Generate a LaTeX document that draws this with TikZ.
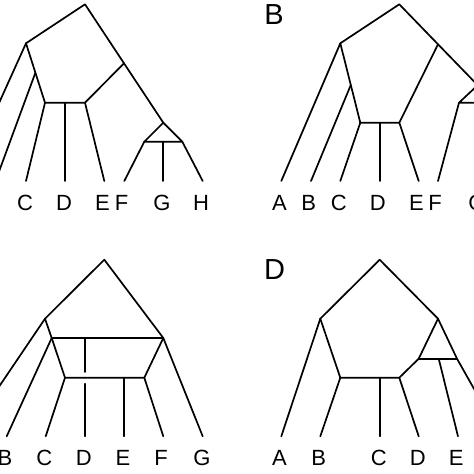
\documentclass[tikz,border=0pt]{standalone}
\usepackage{fontspec}
\setmainfont{Liberation Sans}
\usepackage{tikz}

\begin{document}
\begin{tikzpicture}[
    x=1pt, y=-1pt,
    branch/.style={line width=1.7pt, line cap=round, line join=round},
    leaf/.style={inner sep=0pt, font=\fontsize{22}{22}\selectfont},
    panel/.style={inner sep=0pt, font=\fontsize{29}{29}\selectfont}
]
\useasboundingbox (0,0) rectangle (474,474);
\clip (0,0) rectangle (474,474);

% Panel A
\coordinate (aroot) at (85,4.3);
\coordinate (aleft) at (26,43.3);
\coordinate (aAend) at (-10,123);
\coordinate (asplit) at (35.4,72.7);
\coordinate (aBend) at (-10,196);
\coordinate (acl) at (45,102.7);
\coordinate (acm) at (65,102.7);
\coordinate (acr) at (85,102.7);
\coordinate (aright) at (124,63.3);
\coordinate (atop) at (163.3,122.7);
\coordinate (atl) at (144.3,141.7);
\coordinate (atm) at (163.3,141.7);
\coordinate (atr) at (182.3,141.7);
\coordinate (tC) at (26,181);
\coordinate (tD) at (65,181);
\coordinate (tE) at (104.3,181);
\coordinate (tF) at (124.3,181);
\coordinate (tG) at (163.3,181);
\coordinate (tH) at (202.7,181);

\draw[branch] (aleft) -- (aroot) -- (aright) -- (atop);
\draw[branch] (aleft) -- (aAend);
\draw[branch] (aleft) -- (asplit) -- (acl);
\draw[branch] (asplit) -- (aBend);
\draw[branch] (acl) -- (acr) -- (aright);
\draw[branch] (acm) -- (tD);
\draw[branch] (acl) -- (tC);
\draw[branch] (acr) -- (tE);
\draw[branch] (atl) -- (atop) -- (atr) -- (atl);
\draw[branch] (atl) -- (tF);
\draw[branch] (atm) -- (tG);
\draw[branch] (atr) -- (tH);

\node[leaf] (lC) at (25,202.7) {C};
\node[leaf] (lD) at (64,202.7) {D};
\node[leaf] (lE) at (102.5,202.7) {E};
\node[leaf] (lF) at (121.5,202.7) {F};
\node[leaf] (lG) at (162,202.7) {G};
\node[leaf] (lH) at (201,202.7) {H};

% Panel B
\node[panel] (pB) at (274,14.5) {B};
\coordinate (broot) at (399.3,4.3);
\coordinate (bleft) at (340.3,43.3);
\coordinate (bright) at (438,44.3);
\coordinate (bapex) at (477.7,85.2);
\coordinate (btl) at (459,102.7);
\coordinate (btr) at (497,102.7);
\coordinate (bsplit) at (350.8,85);
\coordinate (bcl) at (360.3,122.7);
\coordinate (bcm) at (379.7,122.7);
\coordinate (bcr) at (399.3,122.7);
\coordinate (uA) at (281.3,181);
\coordinate (uB) at (311,181);
\coordinate (uC) at (340.3,181);
\coordinate (uD) at (379.7,181);
\coordinate (uE) at (418.7,181);
\coordinate (uF) at (438,181);

\draw[branch] (bleft) -- (broot) -- (bright) -- (bapex);
\draw[branch] (bleft) -- (uA);
\draw[branch] (bleft) -- (bsplit) -- (bcl);
\draw[branch] (bsplit) -- (uB);
\draw[branch] (bcl) -- (bcr) -- (bright);
\draw[branch] (bcl) -- (uC);
\draw[branch] (bcm) -- (uD);
\draw[branch] (bcr) -- (uE);
\draw[branch] (bapex) -- (btl) -- (btr);
\draw[branch] (btl) -- (uF);

\node[leaf] (mA) at (279.5,202.7) {A};
\node[leaf] (mB) at (308.7,202.7) {B};
\node[leaf] (mC) at (338.8,202.7) {C};
\node[leaf] (mD) at (377.8,202.7) {D};
\node[leaf] (mE) at (416.5,202.7) {E};
\node[leaf] (mF) at (435,202.7) {F};
\node[leaf] (mG) at (477,202.7) {G};

% Panel C
\coordinate (croot) at (104.3,259.7);
\coordinate (cleft) at (45,318.7);
\coordinate (cright) at (163.3,338);
\coordinate (cAend) at (-10,400);
\coordinate (cul) at (51.7,338);
\coordinate (cum) at (85,338);
\coordinate (cll) at (65,377.7);
\coordinate (clm) at (124,377.7);
\coordinate (clr) at (144.3,377.7);
\coordinate (cgapt) at (85,372);
\coordinate (cgapb) at (85,383.7);
\coordinate (vB) at (6.7,436.3);
\coordinate (vC) at (45.7,436.3);
\coordinate (vD) at (85,436.3);
\coordinate (vE) at (124,436.3);
\coordinate (vF) at (163.3,436.3);
\coordinate (vG) at (202.7,436.3);

\draw[branch] (cleft) -- (croot) -- (cright);
\draw[branch] (cleft) -- (cAend);
\draw[branch] (cleft) -- (cul) -- (cright) -- (clr) -- (cll) -- (cul);
\draw[branch] (cul) -- (vB);
\draw[branch] (cum) -- (cgapt);
\draw[branch] (cgapb) -- (vD);
\draw[branch] (cll) -- (vC);
\draw[branch] (clm) -- (vE);
\draw[branch] (clr) -- (vF);
\draw[branch] (cright) -- (vG);

\node[leaf] (nB) at (5,457.5) {B};
\node[leaf] (nC) at (44.3,457.5) {C};
\node[leaf] (nD) at (83.8,457.5) {D};
\node[leaf] (nE) at (123,457.5) {E};
\node[leaf] (nF) at (161,457.5) {F};
\node[leaf] (nG) at (202,457.5) {G};

% Panel D
\node[panel] (pD) at (274.5,270) {D};
\coordinate (droot) at (379.7,259.7);
\coordinate (dleft) at (320.3,318.7);
\coordinate (dright) at (438,318.7);
\coordinate (dll) at (340.3,377.7);
\coordinate (dlm) at (379.7,377.7);
\coordinate (dlr) at (399.3,377.7);
\coordinate (dtl) at (418.7,358.7);
\coordinate (dtm) at (438.7,358.7);
\coordinate (dtr) at (457,358.7);
\coordinate (dFend) at (482,403);
\coordinate (wA) at (281.3,436.3);
\coordinate (wB) at (320.3,436.3);
\coordinate (wC) at (379.7,436.3);
\coordinate (wD) at (418.7,436.3);
\coordinate (wE) at (458,436.3);

\draw[branch] (dleft) -- (droot) -- (dright) -- (dtr) -- (dFend);
\draw[branch] (dleft) -- (wA);
\draw[branch] (dleft) -- (dll) -- (dlr) -- (dtl) -- (dright);
\draw[branch] (dtl) -- (dtr);
\draw[branch] (dll) -- (wB);
\draw[branch] (dlm) -- (wC);
\draw[branch] (dlr) -- (wD);
\draw[branch] (dtm) -- (wE);

\node[leaf] (oA) at (279.5,458) {A};
\node[leaf] (oB) at (318.7,458) {B};
\node[leaf] (oC) at (378.7,458) {C};
\node[leaf] (oD) at (417.7,458) {D};
\node[leaf] (oE) at (456.3,458) {E};
\end{tikzpicture}
\end{document}
